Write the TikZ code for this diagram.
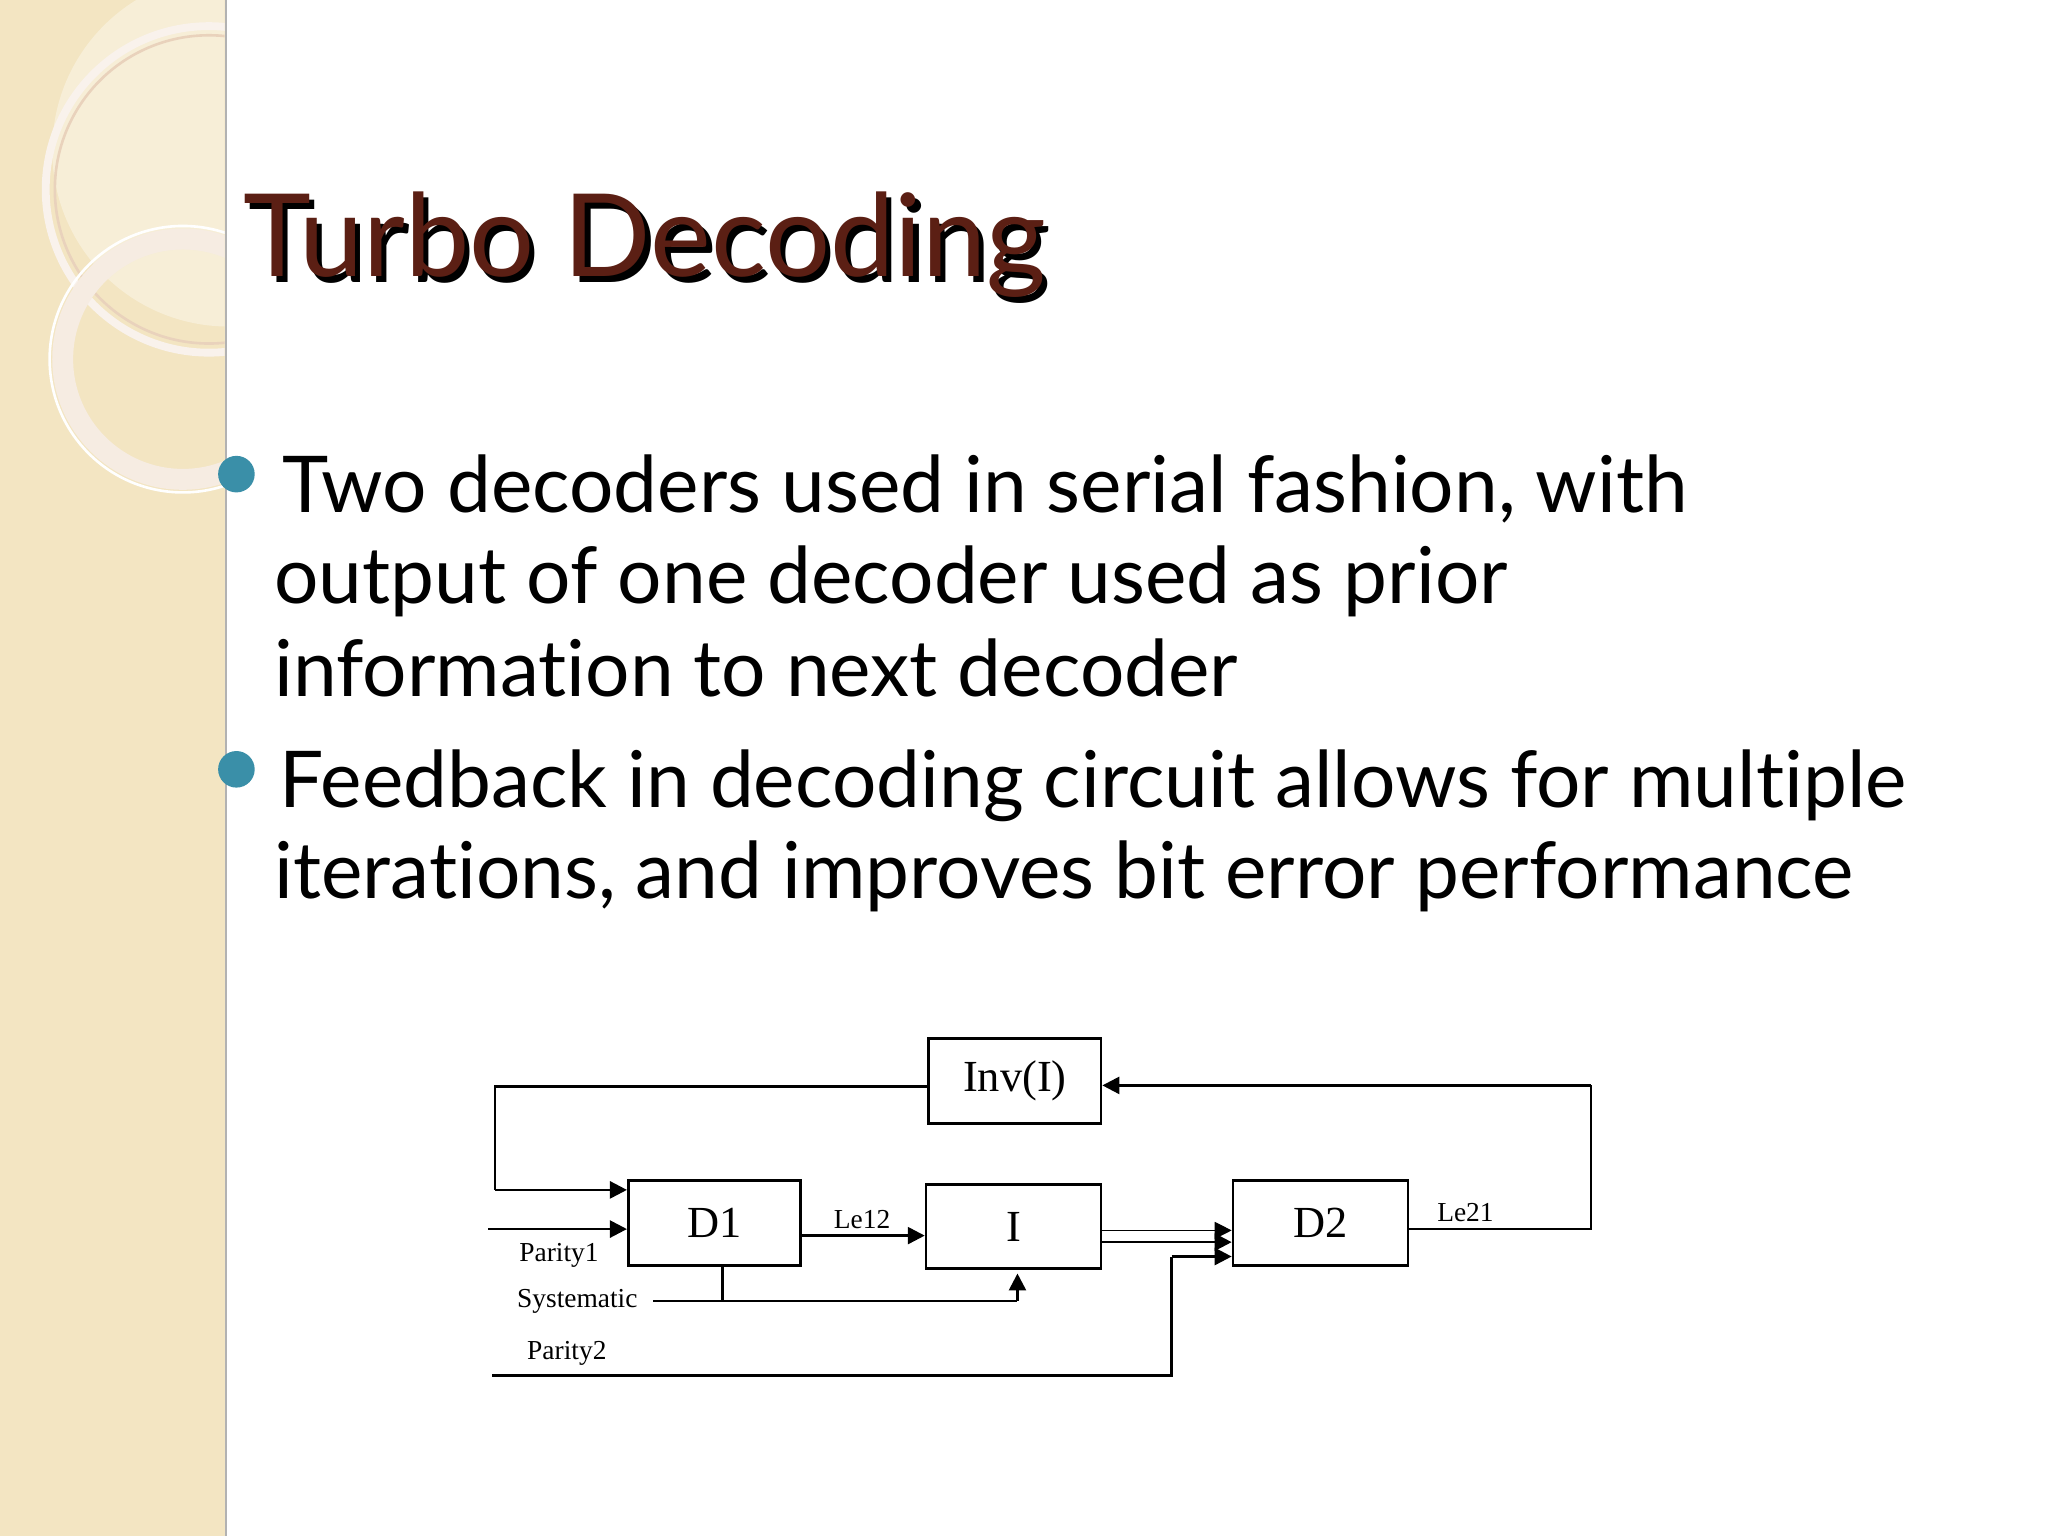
\documentclass[tikz,border=0pt]{standalone}
\usepackage{fontspec}
\setmainfont{Lato}[Ligatures=NoCommon]
\newfontfamily\tms{Liberation Serif}
\usetikzlibrary{arrows.meta}
\definecolor{beige}{HTML}{F3E5C2}
\definecolor{titlec}{HTML}{5B1F14}
\definecolor{bul}{HTML}{3A8FA8}
\tikzset{x=1pt,y=-1pt,
 blk/.style={draw,line width=2pt,inner sep=0pt,font=\tms\fontsize{34}{34}\selectfont},
 wire/.style={line width=2pt},
 arr/.style={wire,-{Triangle[length=13pt,width=13pt]}},
 lbl/.style={font=\tms\fontsize{21}{21}\selectfont,inner sep=1pt},
 body/.style={anchor=base west,font=\fontsize{60}{60}\selectfont,inner sep=0pt}}
\begin{document}
\begin{tikzpicture}
\useasboundingbox (0,0) rectangle (1568,1176);
\fill[white] (0,0) rectangle (1568,1176);
\fill[beige] (0,0) rectangle (173,1176);
\draw[gray!60,line width=1.5pt] (173,0) -- (173,1176);
\begin{scope}
\clip (0,0) rectangle (172,1176);
\fill[white,opacity=0.35] (175,115) circle (135);
\draw[white!90!brown,line width=6pt] (160,145) circle (125);
\draw[brown!35,line width=2pt] (160,145) circle (118);
\draw[brown!15,line width=16pt] (140,275) circle (92);
\draw[white,line width=2pt] (140,275) circle (102);
\end{scope}
\node[anchor=base west,font=\fontsize{88}{88}\selectfont,text=black,inner sep=0pt] at (190,216) {Turbo Decoding};
\node[anchor=base west,font=\fontsize{88}{88}\selectfont,text=titlec,inner sep=0pt] (title) at (186,212) {Turbo Decoding};
\fill[bul] (181,363) circle (14);
\fill[bul] (181,589) circle (14);
\node[body] (l1) at (216,392) {Two decoders used in serial fashion, with};
\node[body] (l2) at (210,462) {output of one decoder used as prior};
\node[body] (l3) at (210,533) {information to next decoder};
\node[body] (l4) at (214,618) {Feedback in decoding circuit allows for multiple};
\node[body] (l5) at (210,688) {iterations, and improves bit error performance};
% diagram
\node[blk,minimum width=132pt,minimum height=65pt] (inv) at (777,827.5) {Inv(I)};
\node[blk,minimum width=132pt,minimum height=65pt] (d1) at (547,936.5) {D1};
\node[blk,minimum width=134pt,minimum height=64pt] (ii) at (776,939) {I};
\node[blk,minimum width=134pt,minimum height=65pt] (d2) at (1011,936.5) {D2};
\coordinate (fl) at (379,832);
\draw[wire] (inv.west |- fl) -- (fl) -- (379,911);
\draw[arr] (379,911) -- (d1.west |- 0,911);
\draw[arr] (374,941) -- (d1.west |- 0,941);
\draw[arr] (d1.east |- 0,946) -- (ii.west |- 0,946);
\draw[wire] (553,969) -- (553,996);
\draw[wire] (500,996) -- (779,996);
\draw[arr] (779,996) -- (779,975);
\draw[line width=0.9pt,-{Triangle[length=13pt,width=13pt]}] (ii.east |- 0,942) -- (d2.west |- 0,942);
\draw[arr] (ii.east |- 0,951) -- (d2.west |- 0,951);
\draw[wire] (377,1053) -- (897,1053) -- (897,962);
\draw[arr] (897,962) -- (d2.west |- 0,962);
\draw[wire] (d2.east |- 0,941) -- (1218,941) -- (1218,831);
\draw[arr] (1218,831) -- (inv.east |- 0,831);
\node[lbl] at (660,934) {Le12};
\node[lbl] at (1122,928) {Le21};
\node[lbl] at (428,961) {Parity1};
\node[lbl] at (442,996) {Systematic};
\node[lbl] at (434,1036) {Parity2};
\end{tikzpicture}
\end{document}
